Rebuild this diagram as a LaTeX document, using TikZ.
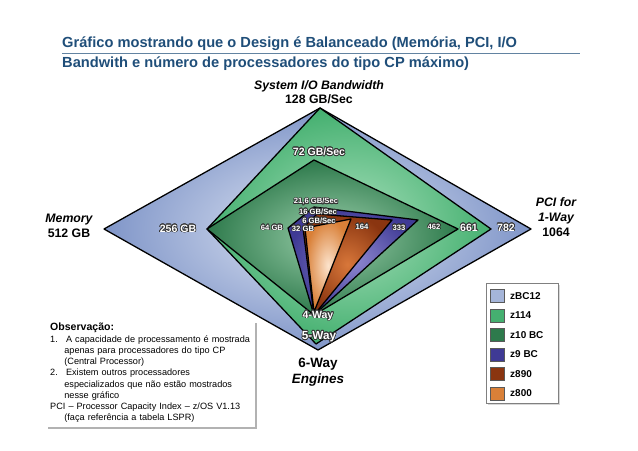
\documentclass[tikz,border=0pt]{standalone}
\usepackage{fontspec}
\setmainfont{Liberation Sans}
\usepackage[copies]{contour}
\contourlength{0.6pt}
\usetikzlibrary{shadows}
\definecolor{ttl}{HTML}{1F4E79}
\definecolor{bOut}{HTML}{7F95C8}\definecolor{bIn}{HTML}{E2E8F5}
\definecolor{gOut}{HTML}{45B070}\definecolor{gIn}{HTML}{A8E0BC}
\definecolor{dOut}{HTML}{2E7A4C}\definecolor{dIn}{HTML}{9CD0AC}
\definecolor{pOut}{HTML}{3F3A95}\definecolor{pIn}{HTML}{8E88D0}
\definecolor{rOut}{HTML}{8A3510}\definecolor{rIn}{HTML}{D8773A}
\definecolor{oOut}{HTML}{D98038}\definecolor{oIn}{HTML}{FCE3CC}
\tikzset{
 poly/.style={draw=black,line width=1.1pt,line join=round},
 vlab/.style={font=\bfseries\fontsize{9}{10}\selectfont,text=white,inner sep=1pt},
 slab/.style={font=\bfseries\fontsize{6.5}{7}\selectfont,text=white,inner sep=0.5pt},
 axl/.style={font=\bfseries\fontsize{10.5}{12.5}\selectfont,align=center,inner sep=0pt},
 sw/.style={draw=gray!70!black,line width=0.4pt,minimum width=12pt,minimum height=11pt,inner sep=0pt},
 lg/.style={font=\bfseries\fontsize{8.5}{9}\selectfont,anchor=west,inner sep=0pt},
}
\newcommand{\wl}[1]{\contour{black!80}{#1}}
\begin{document}
\begin{tikzpicture}[x=0.03cm,y=-0.03cm]
\useasboundingbox (0,0) rectangle (638,451);
% title
\node[anchor=west,font=\bfseries\fontsize{12.5}{14}\selectfont,text=ttl,inner sep=0] (t1) at (62,44) {Gráfico mostrando que o Design é Balanceado (Memória, PCI, I/O};
\node[anchor=west,font=\bfseries\fontsize{12.5}{14}\selectfont,text=ttl,inner sep=0] (t2) at (62,64) {Bandwith e número de processadores do tipo CP máximo)};
\draw[ttl!70,line width=0.6pt] (62,53.5) -- (580,53.5);
% axis labels
\node[axl] (io) at (319,92) {\itshape System I/O Bandwidth\\128 GB/Sec};
\node[axl] (mem) at (69,226) {\itshape Memory\\512 GB};
\node[axl] (pci) at (556,217) {\itshape PCI for\\\itshape 1-Way\\1064};
\node[axl,font=\bfseries\fontsize{11.5}{13.5}\selectfont] (eng) at (318,372) {6-Way\\\itshape Engines};
% polygons
\shade[poly,inner color=bIn,outer color=bOut] (320,108) -- (104,229) -- (318,350) -- (531,229) -- cycle;
\shade[poly,inner color=gIn,outer color=gOut] (320,108) -- (207,229) -- (316,344) -- (491,229) -- cycle;
\shade[poly,inner color=dIn,outer color=dOut] (314,160) -- (207,229) -- (314,315) -- (458,229) -- cycle;
\shade[poly,inner color=pIn,outer color=pOut] (314,207) -- (288,228) -- (314,315) -- (418,220) -- cycle;
\shade[poly,inner color=rIn,outer color=rOut] (317,214) -- (303,228) -- (314,315) -- (392,220) -- cycle;
\shade[poly,inner color=oIn,outer color=oOut] (305,228) -- (314,312) -- (351,219) -- cycle;
% value labels
\node[vlab] (a72) at (319,152) {\wl{72 GB/Sec}};
\node[slab] (a216) at (316,202) {\wl{21,6 GB/Sec}};
\node[slab] (a16) at (318,212) {\wl{16 GB/Sec}};
\node[slab] (a6) at (319,221) {\wl{6 GB/Sec}};
\node[vlab] (m256) at (178,229) {\wl{256 GB}};
\node[slab] (m64) at (272,228) {\wl{64 GB}};
\node[slab] (m32) at (303,229) {\wl{32 GB}};
\node[slab] (p164) at (362,227) {\wl{164}};
\node[slab] (p333) at (399,228) {\wl{333}};
\node[slab] (p462) at (434,227) {\wl{462}};
\node[vlab] (p661) at (469,228) {\wl{661}};
\node[vlab] (p782) at (506,228) {\wl{782}};
\node[vlab] (w4) at (318,316) {\wl{4-Way}};
\node[vlab,font=\bfseries\fontsize{10}{11}\selectfont] (w5) at (319,337) {\wl{5-Way}};
% legend
\node[draw=gray,fill=white,drop shadow={shadow xshift=1.5pt,shadow yshift=-1.5pt,fill=gray!60},inner sep=0,minimum width=2.16cm,minimum height=3.6cm] (lgbox) at (522,343) {};
\foreach \i/\c/\n in {0/bOut!70!white/zBC12,1/gOut/z114,2/dOut/z10 BC,3/pOut/z9 BC,4/rOut/z890,5/oOut/z800}{
 \node[sw,fill=\c] (s\i) at (497,{296+\i*19.5}) {};
 \node[lg] (l\i) at (510,{296+\i*19.5}) {\n};
}
% observation box
\draw[gray!60,line width=1pt] (48,428) -- (256,428) -- (256,323);
\node[anchor=north west,inner sep=0,font=\fontsize{7.8}{9.6}\selectfont,align=left,text width=6.4cm] (obs) at (50,323) {{\bfseries\fontsize{9}{10}\selectfont Observação:}\\[0pt]
1.\hspace{0.9em}A capacidade de processamento é mostrada\\
\hspace*{1.55em}apenas para processadores do tipo CP\\
\hspace*{1.55em}(Central Processor)\\
2.\hspace{0.9em}Existem outros processadores\\
\hspace*{1.55em}especializados que não estão mostrados\\
\hspace*{1.55em}nesse gráfico\\
PCI – Processor Capacity Index – z/OS V1.13\\
\hspace*{1.55em}(faça referência a tabela LSPR)};
\end{tikzpicture}
\end{document}
